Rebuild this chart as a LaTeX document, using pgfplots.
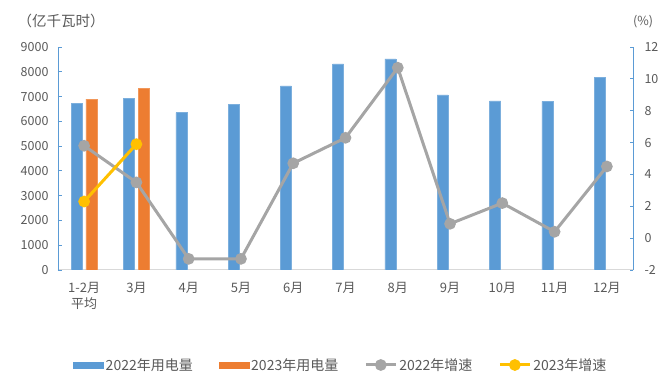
\documentclass[border=0pt]{standalone}
\usepackage{fontspec}
\setmainfont{Noto Sans CJK SC}
\usepackage{pgfplots}
\pgfplotsset{compat=1.18}
\definecolor{cblue}{HTML}{5B9BD5}
\definecolor{corange}{HTML}{ED7D31}
\definecolor{cgray}{HTML}{A5A5A5}
\definecolor{cyellow}{HTML}{FFC000}
\definecolor{ctext}{HTML}{595959}
\definecolor{caxis}{HTML}{D9D9D9}
\begin{document}
\begin{tikzpicture}[x=1pt,y=1pt]
\path[use as bounding box] (0,0) rectangle (672,388);
\pgfplotsset{
  common/.style={
    scale only axis, width=575pt, height=223pt,
    at={(58pt,118pt)}, anchor=south west,
    xmin=-0.5, xmax=10.5,
    /pgf/number format/assume math mode=true,
    /pgf/number format/1000 sep={},
    scaled y ticks=false,
    tick label style={font=\fontsize{12.5}{14}\selectfont, text=ctext},
    tick align=inside, major tick length=3.5pt,
  }
}
\begin{axis}[common,
  ymin=0, ymax=9000, ytick={0,1000,...,9000},
  axis x line*=bottom, axis y line*=left,
  x axis line style={-, draw=caxis, line width=1pt},
  y axis line style={-, draw=cblue, line width=0.9pt},
  ytick style={draw=cblue, line width=0.9pt},
  yticklabel style={xshift=-6pt},
  xtick={0,...,10},
  xticklabels={{1-2月\\平均},3月,4月,5月,6月,7月,8月,9月,10月,11月,12月},
  x tick label style={align=center, font=\fontsize{13}{16}\selectfont, yshift=-5pt},
  xtick style={draw=none},
  ybar, bar width=11pt,
]
\addplot[fill=cblue, draw=cblue!80!white, line width=0.5pt, bar shift=-7.3pt] coordinates {
 (0,6710) (1,6930) (2,6350) (3,6690) (4,7430) (5,8320) (6,8520) (7,7070) (8,6830) (9,6810) (10,7760)};
\addplot[fill=corange, draw=corange!80!white, line width=0.5pt, bar shift=7.3pt] coordinates {
 (0,6900) (1,7340)};
\end{axis}
\begin{axis}[common,
  ymin=-2, ymax=12, ytick={-2,0,...,12},
  axis y line*=right, axis x line=none,
  y axis line style={-, draw=cblue, line width=0.9pt},
  ytick style={draw=cblue, line width=0.9pt},
  yticklabel style={xshift=8pt},
  legend image code/.code={\draw[mark repeat=2,mark phase=2,#1] plot coordinates {(0pt,0pt) (15pt,0pt) (30pt,0pt)};},
  legend style={at={(0.492,-0.426)}, anchor=center, draw=none, fill=none,
    legend columns=-1, font=\fontsize{14}{16}\selectfont, text=ctext,
    /tikz/every even column/.append style={column sep=24pt}},
]
\addlegendimage{legend image code/.code={\fill[cblue] (0pt,-3pt) rectangle (30pt,3pt);}}
\addlegendentry{2022年用电量}
\addlegendimage{legend image code/.code={\fill[corange] (0pt,-3pt) rectangle (30pt,3pt);}}
\addlegendentry{2023年用电量}
\addplot[cgray, line width=3pt, mark=*, mark size=4.3pt]
  coordinates {(0,5.8) (1,3.5) (2,-1.3) (3,-1.3) (4,4.7) (5,6.3) (6,10.7) (7,0.9) (8,2.2) (9,0.4) (10,4.5)};
\addlegendentry{2022年增速}
\addplot[cyellow, line width=3pt, mark=*, mark size=4.3pt]
  coordinates {(0,2.3) (1,5.9)};
\addlegendentry{2023年增速}
\end{axis}
\node[anchor=west, font=\fontsize{14.5}{17}\selectfont, text=ctext] at (14,367) {（亿千瓦时）};
\node[anchor=center, font=\fontsize{12.5}{14}\selectfont, text=ctext] at (643,366) {(\%)};
\end{tikzpicture}
\end{document}
